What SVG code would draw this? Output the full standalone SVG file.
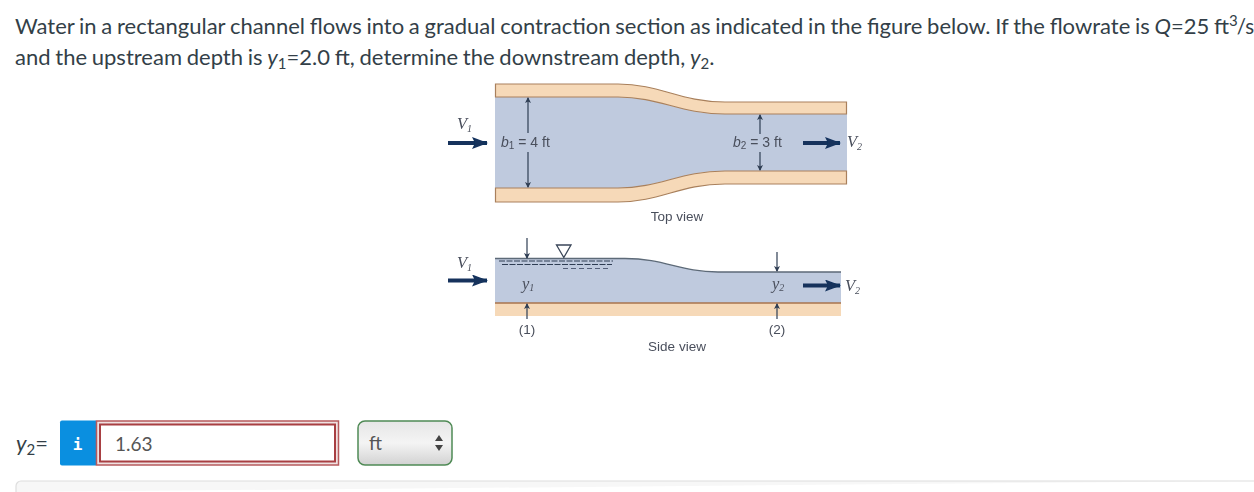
<svg xmlns="http://www.w3.org/2000/svg" width="1254" height="492" viewBox="0 0 1254 492">
<style>
.q{font-family:Lato,"Liberation Sans",sans-serif;font-size:22px;fill:#333f48;word-spacing:-0.9px}
.i{font-style:italic}
.s{font-size:15px}
.fig{font-family:"Liberation Sans",sans-serif;font-size:13.5px;fill:#4a4f5c;text-anchor:middle}
.lab{font-family:"Liberation Sans",sans-serif;font-size:14px;fill:#4a4f5c}
.v{font-family:"Liberation Serif",serif;font-style:italic;font-size:16.5px;fill:#4a4f5c}
.sub{font-size:10px}
.wall{fill:#f6d9b8;stroke:#a9805c;stroke-width:1.2}
.dim{stroke:#2f3d52;stroke-width:1.2;fill:none}
.flow{stroke:#12305c;stroke-width:4;fill:none}
.ui{font-family:Lato,"Liberation Sans",sans-serif;font-size:19px;fill:#555}
</style>
<defs>
<marker id="a" markerWidth="6" markerHeight="8" refX="5" refY="3" orient="auto-start-reverse" markerUnits="userSpaceOnUse"><path d="M0,0L6,3L0,6L1.5,3Z" fill="#2f3d52"/></marker>
<marker id="f" markerWidth="16" markerHeight="14" refX="15" refY="6" orient="auto" markerUnits="userSpaceOnUse"><path d="M0,0L16,6L0,12L3,6Z" fill="#12305c"/></marker>
<linearGradient id="g" x1="0" y1="0" x2="0" y2="1"><stop offset="0" stop-color="#e6e6e6"/><stop offset=".5" stop-color="#f4f4f4"/><stop offset="1" stop-color="#d2d2d2"/></linearGradient>
<filter id="soft" x="-5%" y="-5%" width="110%" height="110%"><feGaussianBlur stdDeviation="0.45"/></filter>
</defs>

<g id="question">
<text class="q" x="15" y="34">Water in a rectangular channel flows into a gradual contraction section as indicated in the figure below. If the flowrate is <tspan class="i">Q</tspan>=25 ft<tspan class="s" dy="-8">3</tspan><tspan dy="8" dx="-1" font-size="20.5">/s</tspan></text>
<text class="q" x="15" y="65">and the upstream depth is <tspan class="i">y</tspan><tspan class="s" dy="4">1</tspan><tspan dy="-4">=2.0 ft, determine the downstream depth, </tspan><tspan class="i">y</tspan><tspan class="s" dy="4">2</tspan><tspan dy="-4">.</tspan></text>
</g>

<g id="top-view" filter="url(#soft)">
<path d="M495 97H618C660 97 680 114 725 114H847V171H725C680 171 660 188 618 188H495Z" fill="#bfcade"/>
<path class="wall" d="M495.500 84H618C660 84 680 102 725 102H846.500V114H725C680 114 660 97 618 97H495.500Z"/>
<path class="wall" d="M495.500 188H618C660 188 680 171 725 171H846.500V184H725C680 184 660 202 618 202H495.500Z"/>
<text class="v" x="457" y="129">V<tspan class="sub" dy="3">1</tspan></text>
<text class="v" x="847" y="147">V<tspan class="sub" dy="3">2</tspan></text>
<text class="lab" x="501" y="147"><tspan class="i">b</tspan><tspan class="sub" dy="2">1</tspan><tspan dy="-2"> = 4 ft</tspan></text>
<text class="lab" x="733" y="147"><tspan class="i">b</tspan><tspan class="sub" dy="2">2</tspan><tspan dy="-2"> = 3 ft</tspan></text>
<text class="fig" x="677" y="221">Top view</text>
</g>

<g id="side-view" filter="url(#soft)">
<path d="M495 258.500H625C665 258.500 680 272 718 272H841V303H495Z" fill="#bfcade"/>
<path d="M495 258.500H625C665 258.500 680 272 718 272H841" fill="none" stroke="#5d6a78" stroke-width="1.300"/>
<rect x="495" y="303" width="346" height="13" fill="#f6d9b8"/>
<path d="M495 303H841" stroke="#a9734c" stroke-width="1.500"/>
<path d="M499 261H613M502 264.500H612" stroke="#2f3d52" stroke-width="1.200" stroke-dasharray="6 1.500" fill="none"/>
<path d="M563 268.500H610" stroke="#55617a" stroke-width="1" stroke-dasharray="5 3" fill="none"/>
<path d="M556.500 245H571L563.800 257.500Z" fill="#fff" stroke="#3a4658" stroke-width="1.300"/>
<text class="v" x="457" y="268">V<tspan class="sub" dy="3">1</tspan></text>
<text class="v" x="845" y="291">V<tspan class="sub" dy="3">2</tspan></text>
<text class="v" x="522" y="289" font-size="14.500">y<tspan class="sub" dy="2">1</tspan></text>
<text class="v" x="772" y="289" font-size="14.500">y<tspan class="sub" dy="2">2</tspan></text>
<text class="fig" x="527" y="334" font-size="14">(1)</text>
<text class="fig" x="777" y="334" font-size="14">(2)</text>
<text class="fig" x="677" y="351">Side view</text>
</g>

<g id="connectors" filter="url(#soft)">
<path class="dim" d="M528 133V98" marker-end="url(#a)"/>
<path class="dim" d="M528 152V187" marker-end="url(#a)"/>
<path class="dim" d="M760 134V115" marker-end="url(#a)"/>
<path class="dim" d="M760 152V170" marker-end="url(#a)"/>
<path class="dim" d="M527 238V258" marker-end="url(#a)"/>
<path class="dim" d="M527 319V304" marker-end="url(#a)"/>
<path class="dim" d="M777 252V271" marker-end="url(#a)"/>
<path class="dim" d="M777 319V304" marker-end="url(#a)"/>
<path class="flow" d="M448 143H487" marker-end="url(#f)"/>
<path class="flow" d="M803 143H840" marker-end="url(#f)"/>
<path class="flow" d="M448 280.500H487" marker-end="url(#f)"/>
<path class="flow" d="M803 285.500H840" marker-end="url(#f)"/>
</g>

<g id="answer">
<text class="q" x="16" y="451" font-size="20"><tspan class="i">y</tspan><tspan class="s" dy="4">2</tspan><tspan dy="-4">=</tspan></text>
<path d="M62 420.500H96V465.500H62A2 2 0 0 1 60 463.500V422.500A2 2 0 0 1 62 420.500Z" fill="#0a8fe0"/>
<text x="77.500" y="450" font-family="'DejaVu Sans Mono',monospace" font-weight="700" font-size="16" fill="#fff" text-anchor="middle">i</text>
<rect x="96.500" y="421" width="242" height="44" fill="#efe1e1" stroke="#b65a5c" stroke-width="1.500"/>
<rect x="100" y="424.500" width="235" height="37" fill="#fff" stroke="#a83f42" stroke-width="2"/>
<text class="ui" x="115" y="451">1.63</text>
<rect x="358" y="421" width="94" height="44" rx="7" fill="url(#g)" stroke="#4f8a55" stroke-width="1.500"/>
<text class="ui" x="369" y="450">ft</text>
<path d="M435 441L439 435 443 441ZM435 445L439 451 443 445Z" fill="#444"/>
<path d="M16 492V486A5 5 0 0 1 21 481H1254" fill="#f7f7f7" stroke="#dedede" stroke-width="1.200"/>
</g>
</svg>
